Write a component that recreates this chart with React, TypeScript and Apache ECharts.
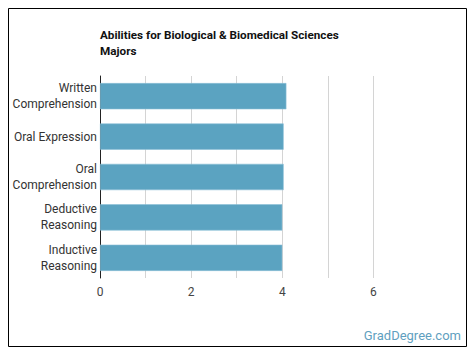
import React, { useEffect, useRef } from "react";
import * as echarts from "echarts";

const titleText = "Abilities for Biological & Biomedical Sciences\nMajors";
const categories = [
  "Written\nComprehension",
  "Oral Expression",
  "Oral\nComprehension",
  "Deductive\nReasoning",
  "Inductive\nReasoning",
];
const values = [4.09, 4.03, 4.03, 4.0, 4.0];
const xLabels = [0, 2, 4, 6];
const watermark = "GradDegree.com";

export default function App() {
  const ref = useRef<HTMLDivElement>(null);
  useEffect(() => {
    if (!ref.current) return;
    const chart = echarts.init(ref.current, undefined, { renderer: "svg" });
    chart.setOption({
      animation: false,
      textStyle: { fontFamily: "Roboto" },
      title: {
        text: titleText,
        left: 100,
        top: 27,
        padding: 0,
        textStyle: { fontSize: 11.7, fontWeight: "bold", color: "#111", lineHeight: 16, fontFamily: "Roboto" },
      },
      grid: { left: 100, top: 76, width: 319, height: 202, containLabel: false },
      xAxis: {
        type: "value",
        min: 0,
        max: 7,
        interval: 1,
        axisLine: { show: false },
        axisTick: { show: false },
        splitLine: { show: true, showMinLine: false, showMaxLine: false, lineStyle: { color: "#d4d4d4", width: 1 } },
        axisLabel: {
          color: "#444",
          fontSize: 12,
          margin: 8,
          formatter: (v: number) => (xLabels.includes(v) ? String(v) : ""),
        },
      },
      yAxis: {
        type: "category",
        data: categories,
        inverse: true,
        axisLine: { show: true, lineStyle: { color: "#222", width: 1 } },
        axisTick: { show: false },
        axisLabel: { color: "#333", fontSize: 12, lineHeight: 16, margin: 3, align: "right" },
      },
      series: [
        {
          type: "bar",
          data: values,
          barCategoryGap: "35%",
          itemStyle: { color: "#5ba3c1", borderColor: "#8cc0d6", borderWidth: 0.6 },
        },
      ],
      graphic: [
        {
          type: "rect",
          shape: { x: 8.5, y: 8.5, width: 458, height: 338 },
          style: { fill: "none", stroke: "#000", lineWidth: 1 },
          silent: true,
        },
        {
          type: "text",
          x: 461,
          y: 335,
          style: {
            text: watermark,
            fill: "#5f9fc0",
            fontSize: 13,
            fontFamily: "Roboto",
            align: "right",
            verticalAlign: "middle",
          },
        },
      ],
    });
    return () => chart.dispose();
  }, []);
  return (
    <div style={{ position: "absolute", left: 0, top: 0, width: 476, height: 357 }}>
      <div ref={ref} style={{ width: 476, height: 357 }} />
    </div>
  );
}
